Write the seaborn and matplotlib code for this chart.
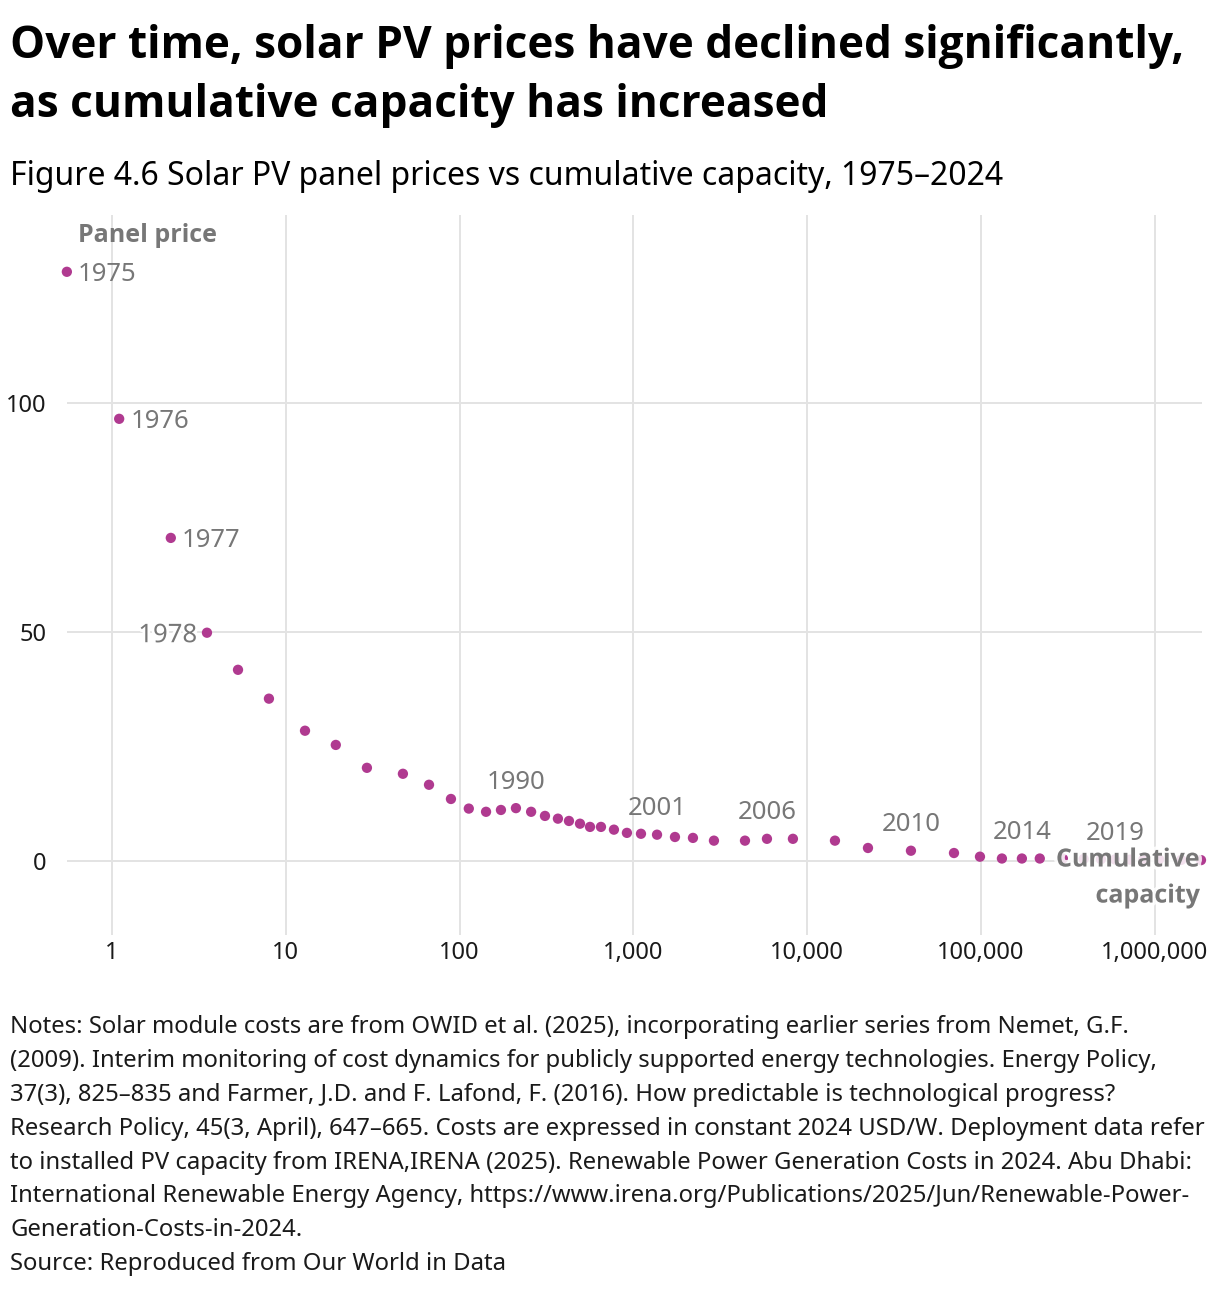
import numpy as np
import pandas as pd
import seaborn as sns
import matplotlib.pyplot as plt
import matplotlib.patheffects as pe
from matplotlib import font_manager
from matplotlib.ticker import FixedLocator, FuncFormatter

# data: cumulative capacity (MW) and panel price (2024 USD/W)
years = list(range(1975, 2025))
capacity = [0.55, 1.1, 2.18, 3.52, 5.31, 8.0, 12.9, 19.4, 29.3, 47.2,
            66.7, 89.2, 113, 142, 173, 211, 258, 310, 368, 426,
            493, 563, 651, 773, 918, 1106, 1368, 1735, 2202, 2908,
            4387, 5870, 8280, 14450, 22380, 39550, 69950, 98700, 132000, 172000,
            218000, 296000, 390000, 490000, 590000, 720000, 860000, 1060000, 1420000, 1845000]
price = [128.6, 96.5, 70.5, 49.8, 41.7, 35.4, 28.4, 25.3, 20.3, 19.0,
         16.6, 13.5, 11.4, 10.7, 11.1, 11.5, 10.7, 9.8, 9.2, 8.7,
         8.1, 7.4, 7.4, 6.8, 6.1, 5.9, 5.7, 5.2, 5.0, 4.4,
         4.4, 4.8, 4.8, 4.4, 2.8, 2.2, 1.7, 0.9, 0.5, 0.5,
         0.5, 0.5, 0.4, 0.35, 0.3, 0.25, 0.3, 0.3, 0.2, 0.15]
labels_right = [1975, 1976, 1977]
labels_left = [1978]
labels_above = [1990, 2001, 2006, 2010, 2014, 2019]

notes = [
    "Notes: Solar module costs are from OWID et al. (2025), incorporating earlier series from Nemet, G.F.",
    "(2009). Interim monitoring of cost dynamics for publicly supported energy technologies. Energy Policy,",
    "37(3), 825\u2013835 and Farmer, J.D. and F. Lafond, F. (2016). How predictable is technological progress?",
    "Research Policy, 45(3, April), 647\u2013665. Costs are expressed in constant 2024 USD/W. Deployment data refer",
    "to installed PV capacity from IRENA,IRENA (2025). Renewable Power Generation Costs in 2024. Abu Dhabi:",
    "International Renewable Energy Agency, https://www.irena.org/Publications/2025/Jun/Renewable-Power-",
    "Generation-Costs-in-2024.",
    "Source: Reproduced from Our World in Data",
]

df = pd.DataFrame({"year": years, "capacity": capacity, "price": price})

sns.set_theme(style="white")
plt.rcParams['font.family'] = ['Noto Sans', 'DejaVu Sans']

# pick a family that really has a bold face
bold_family = 'DejaVu Sans'
for fam in ['Noto Sans', 'Open Sans', 'Lato', 'Roboto', 'Inter']:
    try:
        f = font_manager.findfont(font_manager.FontProperties(family=fam, weight='bold'),
                                  fallback_to_default=False)
        if 'bold' in f.lower():
            bold_family = fam
            break
    except Exception:
        pass
BOLD = dict(family=[bold_family, 'DejaVu Sans'], fontweight='bold')

W, H = 1220, 1290
fig = plt.figure(figsize=(W / 100, H / 100), dpi=100)
ax = fig.add_axes([67 / W, 1 - 935 / H, (1202 - 67) / W, (935 - 215) / H])

color = "#b03a90"
grey = "#777777"

sns.scatterplot(data=df, x="capacity", y="price", ax=ax, color=color,
                s=55, edgecolor="none", clip_on=False, zorder=3)
ax.set_xscale("log")
ax.set_xlim(0.551, 1.87e6)
ax.set_ylim(-16.2, 141)

ax.xaxis.set_major_locator(FixedLocator([1, 10, 100, 1e3, 1e4, 1e5, 1e6]))
ax.xaxis.set_minor_locator(FixedLocator([]))
ax.xaxis.set_major_formatter(FuncFormatter(lambda v, p: f"{int(round(v)):,}"))
ax.set_yticks([0, 50, 100])
ax.grid(True, color="#e3e3e3", linewidth=1.4)
ax.set_axisbelow(True)
for s in ax.spines.values():
    s.set_visible(False)
ax.tick_params(axis="both", length=0, labelsize=17, colors="#1a1a1a")
ax.tick_params(axis="x", pad=4)
ax.tick_params(axis="y", pad=15)
ax.set_xlabel("")
ax.set_ylabel("")

for _, r in df.iterrows():
    y = int(r["year"])
    if y in labels_right:
        ax.annotate(str(y), (r["capacity"], r["price"]), xytext=(11, 0),
                    textcoords="offset pixels", ha="left", va="center_baseline",
                    fontsize=18.5, color=grey)
    elif y in labels_left:
        ax.annotate(str(y), (r["capacity"], r["price"]), xytext=(-10, 0),
                    textcoords="offset pixels", ha="right", va="center_baseline",
                    fontsize=18.5, color=grey,
                    path_effects=[pe.withStroke(linewidth=4, foreground="white")])
    elif y in labels_above:
        ax.annotate(str(y), (r["capacity"], r["price"]), xytext=(0, 29),
                    textcoords="offset pixels", ha="center", va="center_baseline",
                    fontsize=18.5, color=grey)

halo = [pe.withStroke(linewidth=5, foreground=(1, 1, 1, 0.85))]
fig.text(78 / W, 1 - 233 / H, "Panel price", ha="left", va="center_baseline",
         fontsize=18, color=grey, **BOLD)
fig.text(1200 / W, 1 - 857 / H, "Cumulative", ha="right", va="center_baseline",
         fontsize=18, color=grey, path_effects=halo, zorder=10, **BOLD)
fig.text(1200 / W, 1 - 893 / H, "capacity", ha="right", va="center_baseline",
         fontsize=18, color=grey, path_effects=halo, zorder=10, **BOLD)

fig.text(10 / W, 1 - 58 / H, "Over time, solar PV prices have declined significantly,",
         ha="left", va="baseline", fontsize=31.8, color="black", **BOLD)
fig.text(10 / W, 1 - 117 / H, "as cumulative capacity has increased",
         ha="left", va="baseline", fontsize=31.8, color="black", **BOLD)
fig.text(10 / W, 1 - 185 / H,
         "Figure 4.6 Solar PV panel prices vs cumulative capacity, 1975\u20132024",
         ha="left", va="baseline", fontsize=23, color="black")

for i, line in enumerate(notes):
    fig.text(10 / W, 1 - (1033 + 33.9 * i) / H, line, ha="left", va="baseline",
             fontsize=17.2, color="#1a1a1a")

fig.savefig("out.png", dpi=100, facecolor="white")
